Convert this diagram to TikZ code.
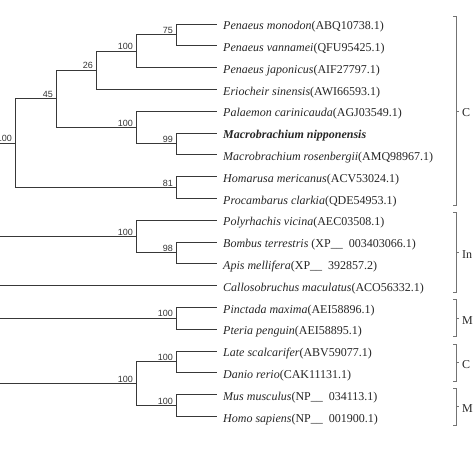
\documentclass[tikz,border=0pt]{standalone}
\usepackage{fontspec}
\setmainfont{Liberation Serif}
\newfontfamily\bsfont{Liberation Sans}
\usepackage{tikz}
\usetikzlibrary{positioning,calc}
% clade bar: x, top, bottom, middle, name, label
\newcommand{\cladebar}[6]{%
  \draw[bar] (#1-3,#2) -- (#1,#2) -- (#1,#3) -- (#1-3,#3);
  \draw[bar] (#1,#4) -- (#1+2.5,#4);
  \node[grp] (#5) at (#1+6,#4) {#6};}

\begin{document}
\begin{tikzpicture}[
    x=1pt, y=-1pt,
    br/.style={draw=black!78, line width=0.9pt},
    bar/.style={draw=black!55, line width=0.7pt},
    leaf/.style={anchor=mid west, inner sep=0pt, yshift=-3.5pt,
                 font=\fontsize{12}{14}\selectfont, text=black!85},
    bs/.style={anchor=south east, inner sep=0.5pt, xshift=-3pt, yshift=0.6pt,
               font=\bsfont\fontsize{9}{10}\selectfont, text=black!80},
    grp/.style={anchor=mid west, inner sep=0pt, yshift=-3.5pt,
                font=\fontsize{12}{14}\selectfont, text=black!85},
  ]
    \useasboundingbox (0,0) rectangle (474,474);
    \clip (0,0) rectangle (474,474);

    % leaf tips
    \coordinate (t0) at (217,24);
    \coordinate (t1) at (217,45.8);
    \coordinate (t2) at (217,67.6);
    \coordinate (t3) at (217,89.4);
    \coordinate (t4) at (217,111.2);
    \coordinate (t5) at (217,133);
    \coordinate (t6) at (217,154.8);
    \coordinate (t7) at (217,176.6);
    \coordinate (t8) at (217,198.4);
    \coordinate (t9) at (217,220.2);
    \coordinate (t10) at (217,242);
    \coordinate (t11) at (217,263.8);
    \coordinate (t12) at (217,285.6);
    \coordinate (t13) at (217,307.4);
    \coordinate (t14) at (217,329.2);
    \coordinate (t15) at (217,351);
    \coordinate (t16) at (217,372.8);
    \coordinate (t17) at (217,394.6);
    \coordinate (t18) at (217,416.4);

    % species labels
    \node[leaf] (pmon) at ([xshift=6pt]t0) {\textit{Penaeus monodon}(ABQ10738.1)};
    \node[leaf] (pvan) at ([xshift=6pt]t1) {\textit{Penaeus vannamei}(QFU95425.1)};
    \node[leaf] (pjap) at ([xshift=6pt]t2) {\textit{Penaeus japonicus}(AIF27797.1)};
    \node[leaf] (esin) at ([xshift=6pt]t3) {\textit{Eriocheir sinensis}(AWI66593.1)};
    \node[leaf] (pcar) at ([xshift=6pt]t4) {\textit{Palaemon carinicauda}(AGJ03549.1)};
    \node[leaf] (mnip) at ([xshift=6pt]t5) {\textbf{\textit{Macrobrachium nipponensis}}};
    \node[leaf] (mros) at ([xshift=6pt]t6) {\textit{Macrobrachium rosenbergii}(AMQ98967.1)};
    \node[leaf] (hmer) at ([xshift=6pt]t7) {\textit{Homarusa mericanus}(ACV53024.1)};
    \node[leaf] (pcla) at ([xshift=6pt]t8) {\textit{Procambarus clarkia}(QDE54953.1)};
    \node[leaf] (pvic) at ([xshift=6pt]t9) {\textit{Polyrhachis vicina}(AEC03508.1)};
    \node[leaf] (bter) at ([xshift=6pt]t10) {\textit{Bombus terrestris} (XP\_\_\ \ 003403066.1)};
    \node[leaf] (amel) at ([xshift=6pt]t11) {\textit{Apis mellifera}(XP\_\_\ \ 392857.2)};
    \node[leaf] (cmac) at ([xshift=6pt]t12) {\textit{Callosobruchus maculatus}(ACO56332.1)};
    \node[leaf] (pmax) at ([xshift=6pt]t13) {\textit{Pinctada maxima}(AEI58896.1)};
    \node[leaf] (ppen) at ([xshift=6pt]t14) {\textit{Pteria penguin}(AEI58895.1)};
    \node[leaf] (lcal) at ([xshift=6pt]t15) {\textit{Late scalcarifer}(ABV59077.1)};
    \node[leaf] (drer) at ([xshift=6pt]t16) {\textit{Danio rerio}(CAK11131.1)};
    \node[leaf] (mmus) at ([xshift=6pt]t17) {\textit{Mus musculus}(NP\_\_\ \ 034113.1)};
    \node[leaf] (hsap) at ([xshift=6pt]t18) {\textit{Homo sapiens}(NP\_\_\ \ 001900.1)};

    % internal nodes
    \coordinate (n75) at (176.7,34.9);
    \coordinate (nPen) at (136.7,51.25);
    \coordinate (n26) at (96.7,70.3);
    \coordinate (n99) at (176.7,143.9);
    \coordinate (nPal) at (136.7,127.55);
    \coordinate (n45) at (56.7,98.9);
    \coordinate (n81) at (176.7,187.5);
    \coordinate (nRoot) at (15.7,143.2);
    \coordinate (n98) at (176.7,252.9);
    \coordinate (nIns) at (136.7,236.55);
    \coordinate (nMol) at (176.7,318.3);
    \coordinate (nFish) at (176.7,361.9);
    \coordinate (nMam) at (176.7,405.5);
    \coordinate (nVert) at (136.7,383.7);

    % stems running off the left edge
    \coordinate (sRoot) at (-5,143.2);
    \coordinate (sIns) at (-5,236.55);
    \coordinate (sCal) at (-5,285.6);
    \coordinate (sMol) at (-5,318.3);
    \coordinate (sVert) at (-5,383.7);

    % crustacean branches
    \draw[br] (n75) |- (t0);
    \draw[br] (n75) |- (t1);
    \draw[br] (nPen) |- (n75);
    \draw[br] (nPen) |- (t2);
    \draw[br] (n26) |- (nPen);
    \draw[br] (n26) |- (t3);
    \draw[br] (n99) |- (t5);
    \draw[br] (n99) |- (t6);
    \draw[br] (nPal) |- (t4);
    \draw[br] (nPal) |- (n99);
    \draw[br] (n45) |- (n26);
    \draw[br] (n45) |- (nPal);
    \draw[br] (n81) |- (t7);
    \draw[br] (n81) |- (t8);
    \draw[br] (nRoot) |- (n45);
    \draw[br] (nRoot) |- (n81);
    \draw[br] (sRoot) -- (nRoot);

    % insect branches
    \draw[br] (n98) |- (t10);
    \draw[br] (n98) |- (t11);
    \draw[br] (nIns) |- (t9);
    \draw[br] (nIns) |- (n98);
    \draw[br] (sIns) -- (nIns);
    \draw[br] (sCal) -- (t12);

    % mollusc branches
    \draw[br] (nMol) |- (t13);
    \draw[br] (nMol) |- (t14);
    \draw[br] (sMol) -- (nMol);

    % vertebrate branches
    \draw[br] (nFish) |- (t15);
    \draw[br] (nFish) |- (t16);
    \draw[br] (nMam) |- (t17);
    \draw[br] (nMam) |- (t18);
    \draw[br] (nVert) |- (nFish);
    \draw[br] (nVert) |- (nMam);
    \draw[br] (sVert) -- (nVert);

    % bootstrap values
    \node[bs] (b75) at (n75) {75};
    \node[bs] (bPen) at (nPen) {100};
    \node[bs] (b26) at (n26) {26};
    \node[bs] (b99) at (n99) {99};
    \node[bs] (bPal) at (nPal) {100};
    \node[bs] (b45) at (n45) {45};
    \node[bs] (b81) at (n81) {81};
    \node[bs] (bRoot) at (nRoot) {100};
    \node[bs] (b98) at (n98) {98};
    \node[bs] (bIns) at (nIns) {100};
    \node[bs] (bMol) at (nMol) {100};
    \node[bs] (bFish) at (nFish) {100};
    \node[bs] (bMam) at (nMam) {100};
    \node[bs] (bVert) at (nVert) {100};

    % clade bars on the right
    \cladebar{456}{16.5}{205.5}{111.2}{gCru}{C}
    \cladebar{456}{212.7}{292.5}{252.5}{gIns}{In}
    \cladebar{456}{299.5}{336.5}{318.3}{gMol}{M}
    \cladebar{456}{344}{381}{362.5}{gFish}{C}
    \cladebar{456}{388}{425}{406.5}{gMam}{M}
  \end{tikzpicture}
\end{document}
